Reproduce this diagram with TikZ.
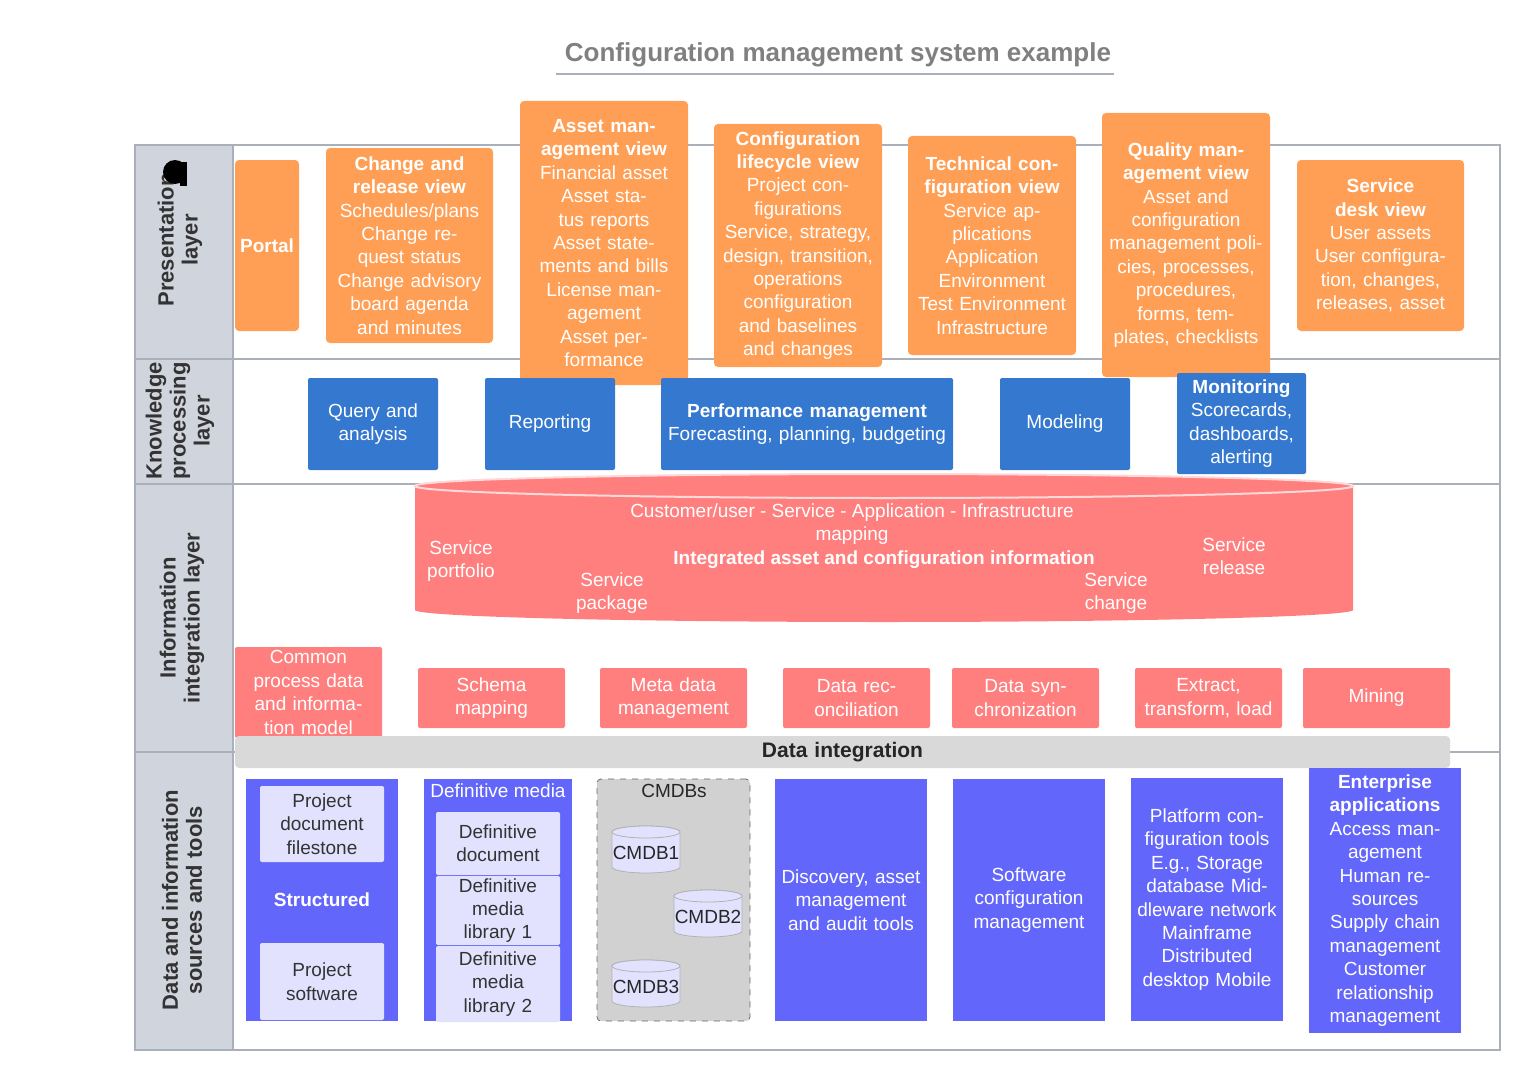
\documentclass[tikz,border=0pt]{standalone}
\usepackage{fontspec}
\setmainfont{Liberation Sans}
\begin{document}
\definecolor{org}{HTML}{FF9F55}
\definecolor{blu}{HTML}{3578CF}
\definecolor{sal}{HTML}{FF7F7F}
\definecolor{pur}{HTML}{6366FA}
\definecolor{lpur}{HTML}{E2E2FF}
\definecolor{band}{HTML}{D0D5DD}
\definecolor{ln}{HTML}{A9B0BA}
\newcommand\bx[7]{\pgfmathsetmacro\bw{(#5-#3)*0.5}\pgfmathsetmacro\bh{(#6-#4)*0.5}\pgfmathsetmacro\tw{(#5-#3)*0.5-4}%
\node[#2,minimum width=\bw pt,minimum height=\bh pt,text width=\tw pt] (#1) at ({(#3+#5)/2},{(#4+#6)/2}) {#7};}
\begin{tikzpicture}[x=0.5pt,y=-0.5pt,
 every node/.style={inner sep=0pt,align=center,font=\fontsize{9.5}{11.7}\selectfont},
 ob/.style={fill=org,rounded corners=2pt,text=white},
 bb/.style={fill=blu,rounded corners=1pt,text=white},
 sb/.style={fill=sal,rounded corners=1pt,text=white},
 pb/.style={fill=pur,text=white},
 lb/.style={fill=lpur,rounded corners=1pt,text=black!80},
 lab/.style={rotate=90,font=\fontsize{11}{12}\selectfont\bfseries,text=black!80},
 ct/.style={text=white}]
\useasboundingbox (0,0) rectangle (1536,1086);
% title
\node[text=black!50,font=\fontsize{13}{15}\selectfont\bfseries] (title) at (838,55) {Configuration management system example};
\draw[ln,line width=1pt] (556,74) -- (1114,74);
% frame
\fill[band] (135,145) rectangle (233,1050);
\draw[ln,line width=1pt] (135,145) rectangle (1500,1050);
\draw[ln,line width=1pt] (233,145) -- (233,1050);
\foreach \y in {359,484,752} \draw[ln,line width=1pt] (135,\y) -- (1500,\y);
\node[lab] (l1) at (180,240) {Presentation\\layer};
\node[lab] (l2) at (180,421) {Knowledge\\processing\\layer};
\node[lab] (l3) at (182,618) {Information\\integration layer};
\node[lab] (l4) at (182,900) {Data and information\\sources and tools};
% icon
\fill[black] (175,172) circle[radius=6pt];
\fill[black] (180,162) rectangle (187,186);
% presentation
\bx{portal}{ob}{235}{160}{299}{331}{\textbf{Portal}}
\bx{chg}{ob}{326}{148}{493}{343}{\textbf{Change and release view}\\Schedules/plans\\Change request status\\Change advisory board agenda and minutes}
\bx{asset}{ob}{520}{101}{688}{385}{\textbf{Asset management view}\\Financial asset\\Asset status reports\\Asset statements and bills\\License management\\Asset performance}
\bx{life}{ob}{714}{124}{882}{367}{\textbf{Configuration lifecycle view}\\Project configurations\\Service, strategy, design, transition, operations configuration and baselines and changes}
\bx{tech}{ob}{908}{136}{1076}{355}{\textbf{Technical configuration view}\\Service applications\\Application Environment\\Test Environment Infrastructure}
\bx{qual}{ob}{1102}{113}{1270}{377}{\textbf{Quality management view}\\Asset and configuration management policies, processes, procedures, forms, templates, checklists}
\bx{desk}{ob}{1297}{160}{1464}{331}{\textbf{Service desk view}\\User assets\\User configuration, changes, releases, asset}
% knowledge
\bx{query}{bb}{308}{378}{438}{470}{Query and analysis}
\bx{rep}{bb}{485}{378}{615}{470}{Reporting}
\bx{perf}{bb}{661}{378}{953}{470}{\textbf{Performance management}\\Forecasting, planning, budgeting}
\bx{mod}{bb}{1000}{378}{1130}{470}{Modeling}
\bx{mon}{bb}{1177}{373}{1306}{474}{\textbf{Monitoring}\\Scorecards, dashboards, alerting}
% cylinder
\fill[sal] (415,486) -- (415,610) arc[start angle=180,end angle=360,x radius=234.5pt,y radius=6pt] -- (1353,486) arc[start angle=0,end angle=180,x radius=234.5pt,y radius=6pt] -- cycle;
\draw[white!70!sal,line width=1pt] (884,486) ellipse[x radius=234.5pt,y radius=6pt];
\node[ct] (c1) at (852,524) {Customer/user - Service - Application - Infrastructure\\mapping};
\node[ct,font=\fontsize{9.5}{11.7}\selectfont\bfseries] (c2) at (884,560) {Integrated asset and configuration information};
\node[ct] (c3) at (461,561) {Service\\portfolio};
\node[ct] (c4) at (612,593) {Service\\package};
\node[ct] (c5) at (1116,593) {Service\\change};
\node[ct] (c6) at (1234,556) {Service\\release};
% integration
\bx{common}{sb}{235}{647}{382}{738}{Common process data and information model}
\bx{schema}{sb}{418}{668}{565}{728}{Schema mapping}
\bx{meta}{sb}{600}{668}{747}{728}{Meta data management}
\bx{rec}{sb}{783}{668}{930}{728}{Data reconciliation}
\bx{sync}{sb}{952}{668}{1099}{728}{Data synchronization}
\bx{etl}{sb}{1135}{668}{1282}{728}{Extract, transform, load}
\bx{mine}{sb}{1303}{668}{1450}{728}{Mining}
\bx{di}{fill=black!15,rounded corners=2pt,font=\fontsize{10.5}{12}\selectfont\bfseries,text=black!85}{235}{736}{1450}{768}{Data integration}
% sources
\bx{struct}{pb}{246}{779}{398}{1021}{\textbf{Structured}}
\bx{pdf}{lb}{260}{786}{384}{862}{Project document filestone}
\bx{ps}{lb}{260}{943}{384}{1020}{Project software}
\bx{dml}{pb}{424}{779}{572}{1021}{}
\node[text=white] (dmlt) at (498,791) {Definitive media};
\bx{dd}{lb}{436}{812}{560}{875}{Definitive document}
\bx{d1}{lb}{436}{876}{560}{945}{Definitive media library 1}
\bx{d2}{lb}{436}{946}{560}{1022}{Definitive media library 2}
\bx{cmdbs}{fill=black!18,draw=black!60,dashed,rounded corners=2pt}{597}{779}{750}{1021}{}
\node[text=black!85] (cmt) at (674,791) {CMDBs};
\foreach \n/\cx/\cy in {CMDB1/646/826,CMDB2/708/890,CMDB3/646/960}{
 \fill[lpur,draw=black!30] (\cx-34,\cy+6) -- (\cx-34,\cy+41) arc[start angle=180,end angle=360,x radius=17pt,y radius=3pt] -- (\cx+34,\cy+6) arc[start angle=0,end angle=180,x radius=17pt,y radius=3pt] -- cycle;
 \draw[black!30,fill=lpur] (\cx,\cy+6) ellipse[x radius=17pt,y radius=3pt];
 \node[text=black!85] (\n) at (\cx,\cy+27) {\n};}
\bx{disc}{pb}{775}{779}{927}{1021}{Discovery, asset management and audit tools}
\bx{soft}{pb}{953}{779}{1105}{1021}{Software configuration management}
\bx{plat}{pb}{1131}{778}{1283}{1021}{Platform configuration tools E.g., Storage database Middleware network Mainframe Distributed desktop Mobile}
\bx{ent}{pb}{1309}{768}{1461}{1033}{\textbf{Enterprise applications}\\Access management\\Human resources\\Supply chain management\\Customer relationship management}
\end{tikzpicture}
\end{document}
